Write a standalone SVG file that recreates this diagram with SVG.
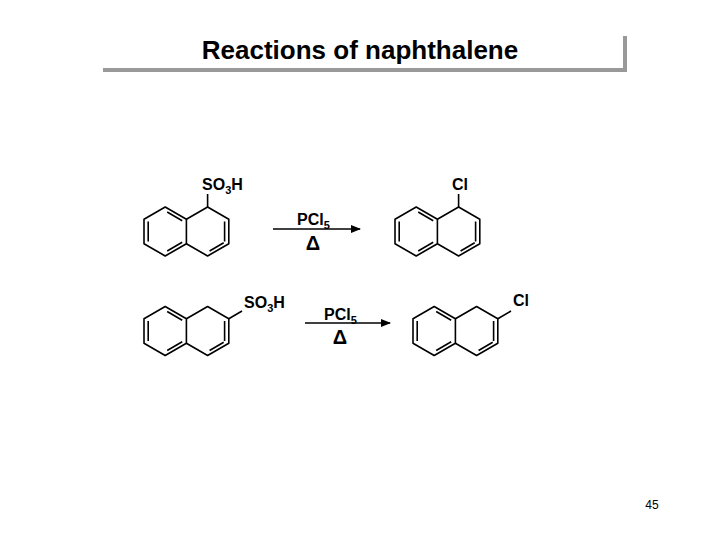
<svg xmlns="http://www.w3.org/2000/svg" width="720" height="540" viewBox="0 0 720 540">
<style>
.b{stroke:#000;stroke-width:1.6;fill:none;stroke-linejoin:round}
.t{font-family:"Liberation Sans",Arial,sans-serif;font-weight:bold;font-size:16px;fill:#000}
.s{font-size:11px}
</style>
<defs>
<marker id="ah" markerWidth="10" markerHeight="8" refX="9" refY="4" orient="auto" markerUnits="userSpaceOnUse"><path d="M0,0 L10,4 L0,8 Z" fill="#000"/></marker>
<g id="naph">
<path class="b" d="M0,-24.5 L21.2,-12.25 L21.2,12.25 L0,24.5 L-21.2,12.25 L-21.2,-12.25 Z"/>
<path class="b" d="M21.2,-12.25 L42.4,-24.5 L63.6,-12.25 L63.6,12.25 L42.4,24.5 L21.2,12.25"/>
<line class="b" x1="-17" y1="-10" x2="-17" y2="10"/>
<line class="b" x1="2" y1="-19.5" x2="17" y2="-10.8"/>
<line class="b" x1="2" y1="19.5" x2="17" y2="10.8"/>
<line class="b" x1="59.4" y1="-10" x2="59.4" y2="10"/>
<line class="b" x1="44.4" y1="19.5" x2="58.5" y2="11.3"/>
</g>
</defs>
<g id="title">
<line x1="103" y1="70" x2="627" y2="70" stroke="#999" stroke-width="4"/>
<line x1="625" y1="36" x2="625" y2="72" stroke="#999" stroke-width="4"/>
<text x="360" y="59" text-anchor="middle" style="font-family:'Liberation Sans',Arial,sans-serif;font-weight:bold;font-size:26px">Reactions of naphthalene</text>
</g>
<g id="m1">
<use href="#naph" x="165.2" y="231.5"/>
<line class="b" x1="207.6" y1="207" x2="207.6" y2="194"/>
<text class="t" x="202" y="190">SO<tspan class="s" dy="4">3</tspan><tspan dy="-4">H</tspan></text>
</g>
<g id="p1">
<use href="#naph" x="416.2" y="231.5"/>
<line class="b" x1="458.6" y1="207" x2="458.6" y2="194"/>
<text class="t" x="452" y="190">Cl</text>
</g>
<g id="m2">
<use href="#naph" x="165.2" y="331"/>
<line class="b" x1="228.8" y1="318.75" x2="242" y2="311"/>
<text class="t" x="244" y="308">SO<tspan class="s" dy="4">3</tspan><tspan dy="-4">H</tspan></text>
</g>
<g id="p2">
<use href="#naph" x="434.2" y="331"/>
<line class="b" x1="497.8" y1="318.75" x2="511" y2="311"/>
<text class="t" x="513" y="306">Cl</text>
</g>
<g id="connectors">
<line class="b" x1="273" y1="229" x2="360" y2="229" marker-end="url(#ah)"/>
<line class="b" x1="305" y1="323" x2="390" y2="323" marker-end="url(#ah)"/>
</g>
<g id="labels">
<text class="t" x="297" y="225">PCl<tspan class="s" dy="4">5</tspan></text>
<text class="t" x="313" y="250" text-anchor="middle" style="font-size:20px">Δ</text>
<text class="t" x="324" y="320">PCl<tspan class="s" dy="4">5</tspan></text>
<text class="t" x="340" y="344" text-anchor="middle" style="font-size:20px">Δ</text>
<text x="652" y="509" text-anchor="middle" style="font-family:'Liberation Sans',Arial,sans-serif;font-size:12px">45</text>
</g>
</svg>
